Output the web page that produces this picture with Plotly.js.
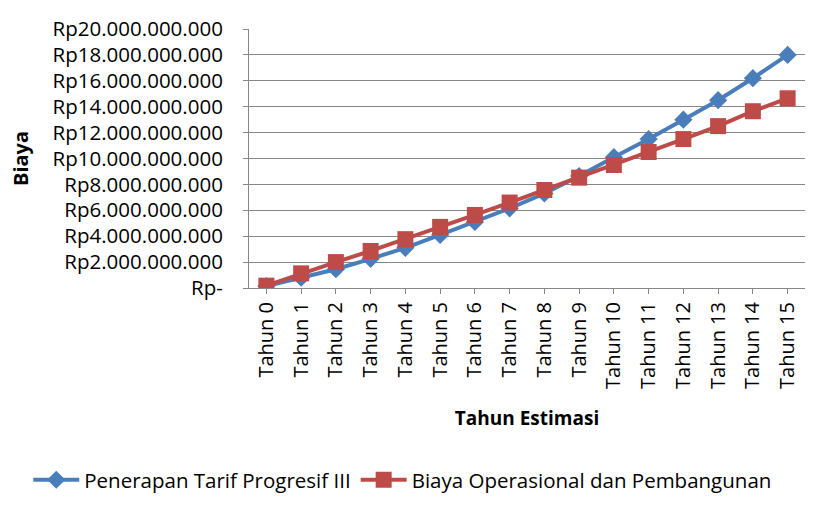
<!DOCTYPE html>
<html>
<head>
<meta charset="utf-8">
<script src="https://cdn.plot.ly/plotly-3.0.1.min.js"></script>
<style>html,body{margin:0;padding:0;background:#fff}#chart{width:825px;height:508px}</style>
</head>
<body>
<div id="chart"></div>
<script>
var categories = ["Tahun 0","Tahun 1","Tahun 2","Tahun 3","Tahun 4","Tahun 5","Tahun 6","Tahun 7","Tahun 8","Tahun 9","Tahun 10","Tahun 11","Tahun 12","Tahun 13","Tahun 14","Tahun 15"];
var tarifProgresif = [0.15e9, 0.8e9, 1.45e9, 2.25e9, 3.1e9, 4.1e9, 5.1e9, 6.15e9, 7.3e9, 8.65e9, 10.1e9, 11.5e9, 13.0e9, 14.5e9, 16.2e9, 18.0e9];
var biayaOperasional = [0.18e9, 1.13e9, 2.0e9, 2.86e9, 3.77e9, 4.72e9, 5.64e9, 6.6e9, 7.57e9, 8.52e9, 9.5e9, 10.5e9, 11.5e9, 12.5e9, 13.65e9, 14.65e9];
var yTickVals = [0, 2e9, 4e9, 6e9, 8e9, 10e9, 12e9, 14e9, 16e9, 18e9, 20e9];
var yTickText = ["Rp-", "Rp2.000.000.000", "Rp4.000.000.000", "Rp6.000.000.000", "Rp8.000.000.000", "Rp10.000.000.000", "Rp12.000.000.000", "Rp14.000.000.000", "Rp16.000.000.000", "Rp18.000.000.000", "Rp20.000.000.000"];

var font = "Open Sans, sans-serif";
var traces = [
  {x: categories, y: tarifProgresif, type: "scatter", mode: "lines+markers", name: "Penerapan Tarif Progresif III",
   line: {color: "#4A7EBB", width: 4}, marker: {symbol: "diamond", size: 14, color: "#4A7EBB"}},
  {x: categories, y: biayaOperasional, type: "scatter", mode: "lines+markers", name: "Biaya Operasional dan Pembangunan",
   line: {color: "#BE4B48", width: 4}, marker: {symbol: "square", size: 16, color: "#BE4B48"}}
];
var layout = {
  width: 825, height: 508,
  margin: {l: 249, r: 20, t: 29, b: 220, autoexpand: false},
  paper_bgcolor: "#fff", plot_bgcolor: "#fff",
  font: {family: font, size: 18, color: "#000"},
  showlegend: true,
  legend: {orientation: "h", x: -0.397, xanchor: "left", y: -0.741, yanchor: "middle",
           font: {family: font, size: 20.5, color: "#000"}, traceorder: "normal", itemwidth: 46},
  xaxis: {
    type: "category", range: [-0.5, 15.5], tickangle: -90,
    tickfont: {family: font, size: 20, color: "#000"},
    showgrid: false, showline: true, linecolor: "#868686", linewidth: 1,
    ticks: "outside", tickcolor: "#868686", ticklen: 5,
    title: {text: "<b>Tahun Estimasi</b>", font: {family: font, size: 19, color: "#000"}, standoff: 23}
  },
  yaxis: {
    range: [0, 20e9], tickvals: yTickVals, ticktext: yTickText,
    tickfont: {family: font, size: 20.5, color: "#000"},
    showgrid: true, gridcolor: "#868686", gridwidth: 1,
    showline: true, linecolor: "#868686", zeroline: false,
    ticks: "outside", tickcolor: "#868686", ticklen: 5, ticklabelstandoff: 16,
    title: {text: "<b>Biaya</b>", font: {family: font, size: 20, color: "#000"}, standoff: 18}
  }
};
Plotly.newPlot("chart", traces, layout, {displayModeBar: false, staticPlot: true});
</script>
</body>
</html>
